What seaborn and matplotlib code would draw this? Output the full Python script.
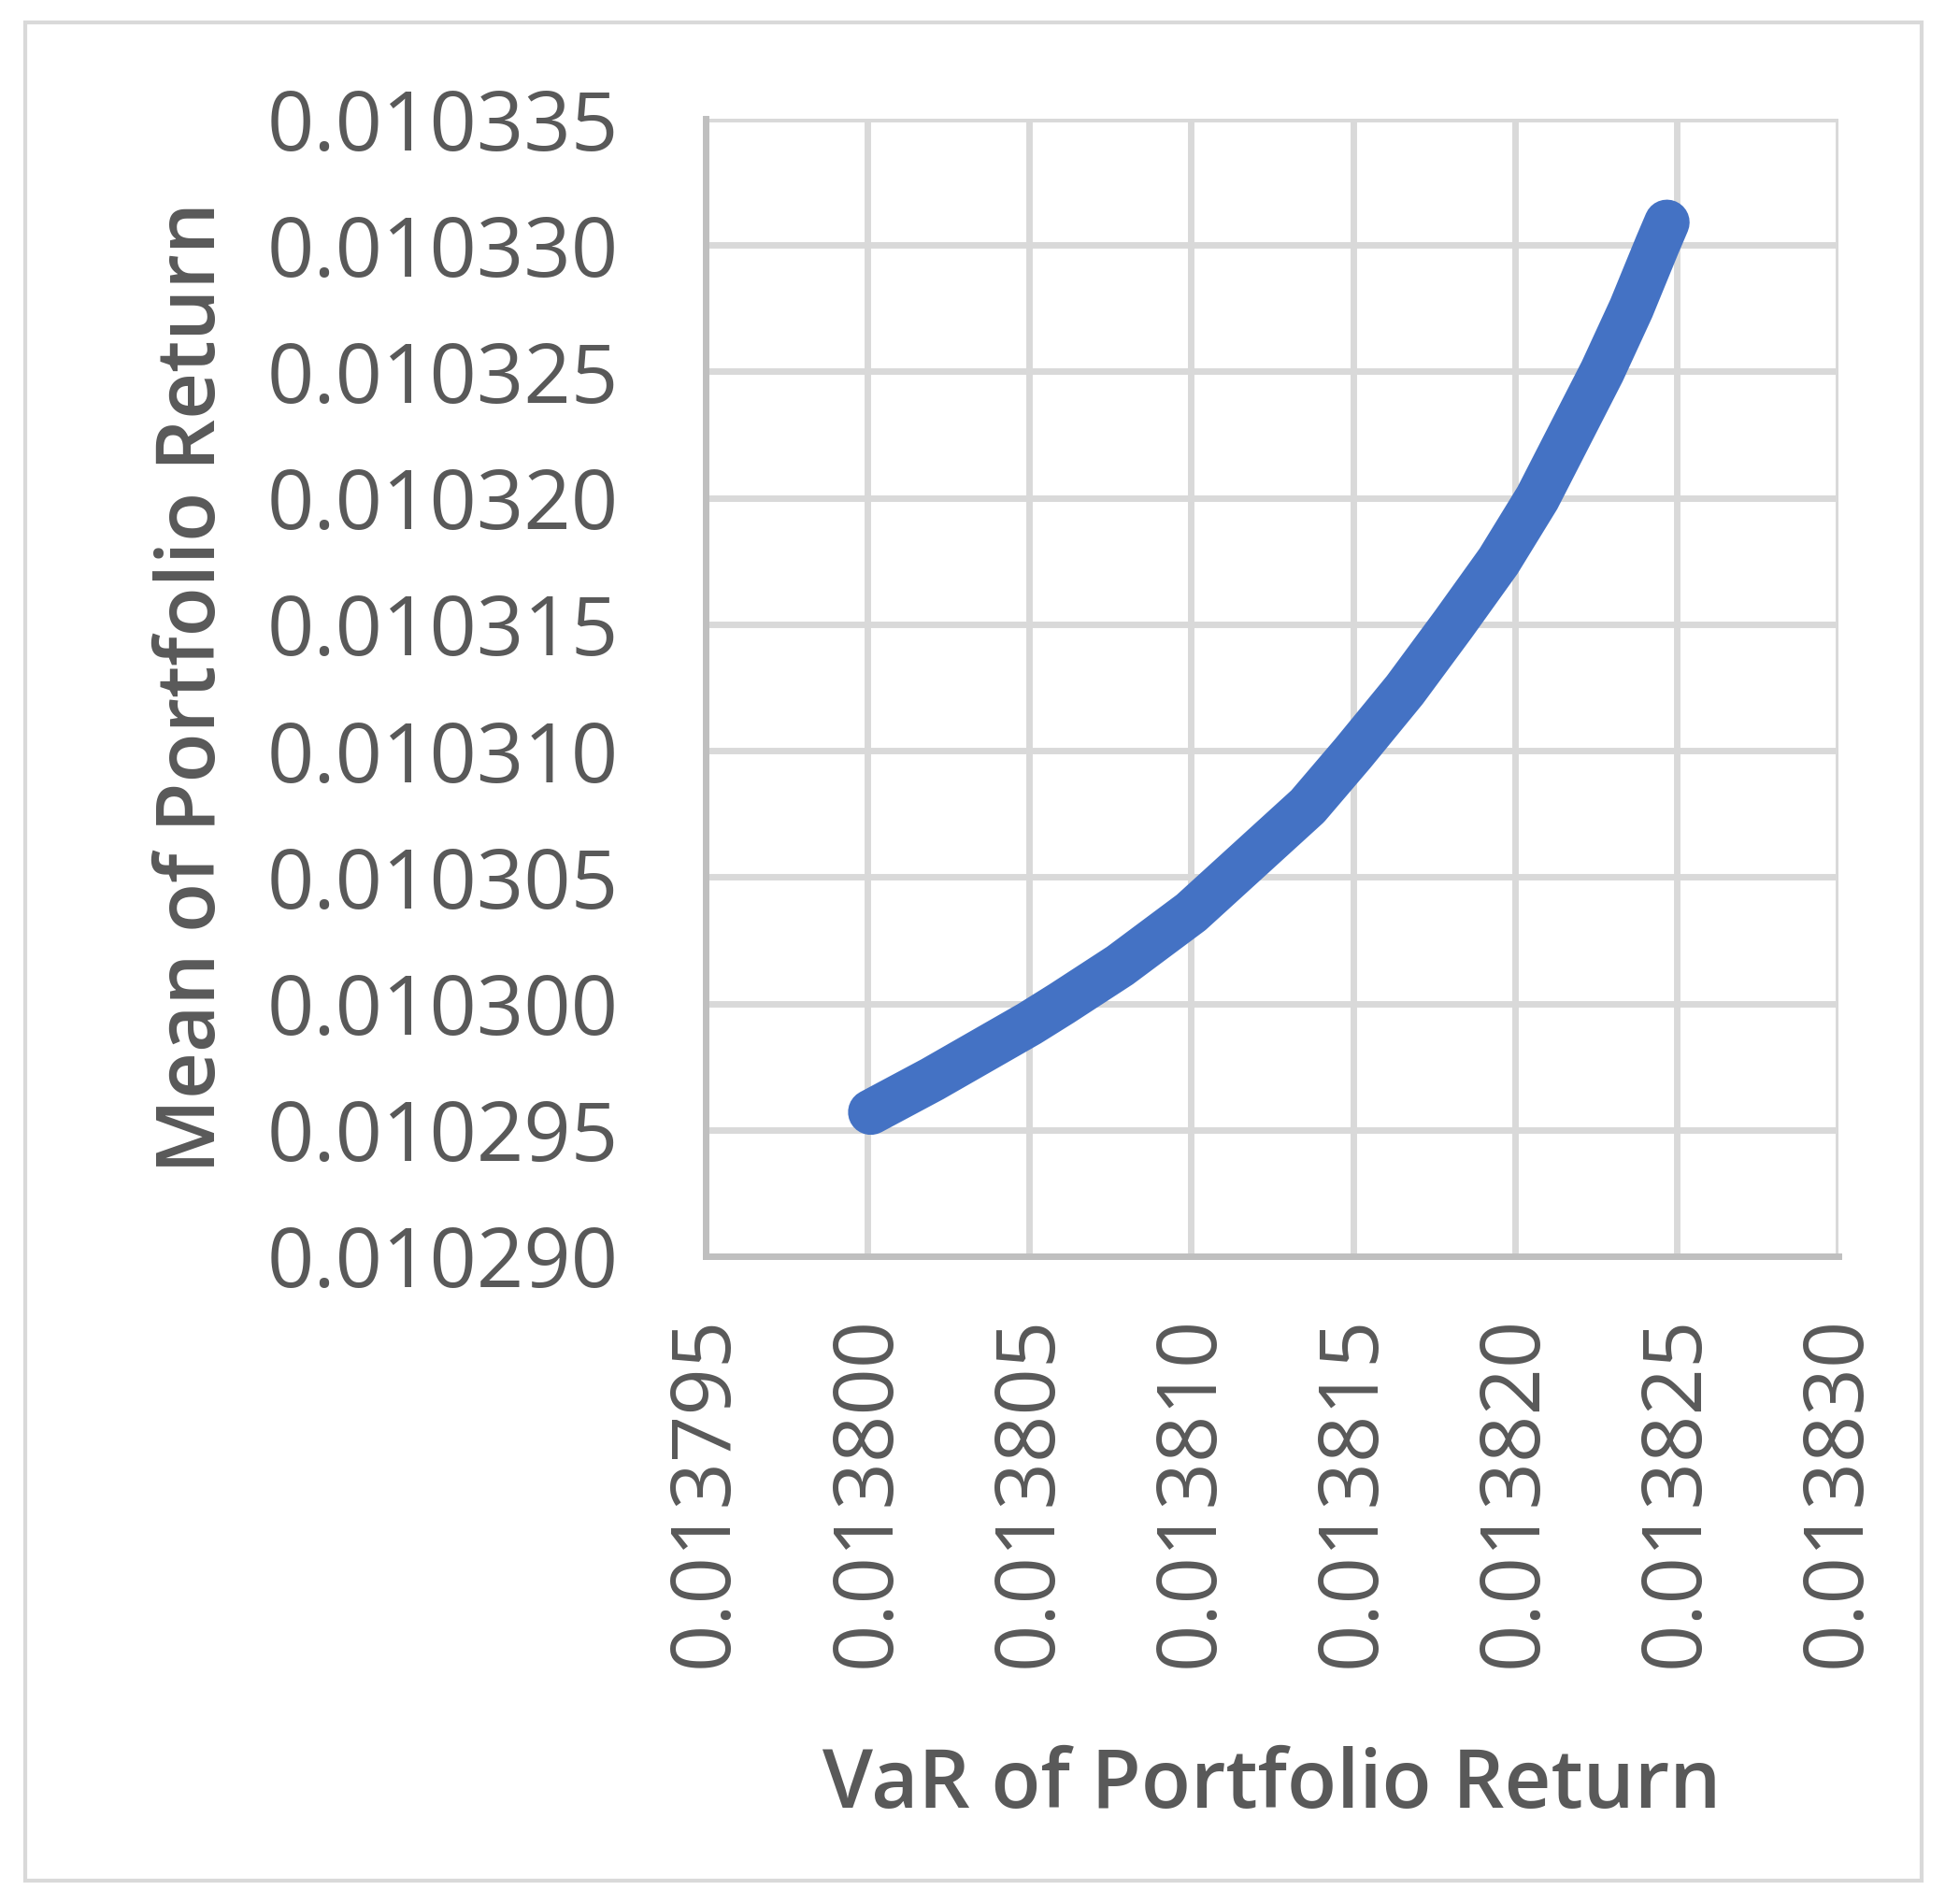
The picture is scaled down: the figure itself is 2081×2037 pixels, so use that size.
import matplotlib
matplotlib.use("Agg")
import matplotlib.pyplot as plt
import matplotlib.patches as mpatches
import pandas as pd
import seaborn as sns

# values
var_values = [0.0138001, 0.0138020, 0.0138050, 0.0138060, 0.0138078, 0.0138100,
              0.0138112, 0.0138136, 0.0138150, 0.0138166, 0.0138181, 0.0138195,
              0.0138207, 0.0138217, 0.0138227, 0.0138236, 0.0138244, 0.0138247]
mean_values = [0.0102957, 0.0102970, 0.0102992, 0.0103000, 0.0103015, 0.0103036,
               0.0103050, 0.0103078, 0.0103099, 0.0103124, 0.0103150, 0.0103175,
               0.0103200, 0.0103225, 0.0103250, 0.0103275, 0.0103300, 0.0103309]

x_ticks = [0.013795, 0.013800, 0.013805, 0.013810, 0.013815, 0.013820, 0.013825, 0.013830]
x_tick_labels = ["0.013795", "0.013800", "0.013805", "0.013810",
                 "0.013815", "0.013820", "0.013825", "0.013830"]
y_ticks = [0.010290, 0.010295, 0.010300, 0.010305, 0.010310,
           0.010315, 0.010320, 0.010325, 0.010330, 0.010335]
y_tick_labels = ["0.010290", "0.010295", "0.010300", "0.010305", "0.010310",
                 "0.010315", "0.010320", "0.010325", "0.010330", "0.010335"]

sns.set_style("white")
plt.rcParams['font.family'] = ['Open Sans', 'DejaVu Sans']

df = pd.DataFrame({"VaR": var_values, "Mean": mean_values})

fig = plt.figure(figsize=(20.81, 20.37), dpi=100)
ax = fig.add_axes([755 / 2081, 1 - 1344 / 2037, 1212 / 2081, 1217 / 2037])

sns.lineplot(data=df, x="VaR", y="Mean", sort=False, ax=ax, color="#4472C4",
             linewidth=35, solid_capstyle="round", solid_joinstyle="round", zorder=3)

ax.set_xlim(x_ticks[0], x_ticks[-1])
ax.set_ylim(y_ticks[0], y_ticks[-1])
ax.set_xticks(x_ticks)
ax.set_xticklabels(x_tick_labels, rotation=90, fontsize=63.5, color="#595959")
ax.set_yticks(y_ticks)
ax.set_yticklabels(y_tick_labels, fontsize=63.5, color="#595959")
ax.tick_params(axis="x", length=0, pad=46)
ax.tick_params(axis="y", length=0, pad=67)

ax.grid(True, color="#D9D9D9", linewidth=5)
ax.set_axisbelow(True)
for side in ["top", "right"]:
    ax.spines[side].set_visible(False)
for side in ["left", "bottom"]:
    ax.spines[side].set_color("#BFBFBF")
    ax.spines[side].set_linewidth(5)

ax.set_xlabel("VaR of Portfolio Return", fontsize=62.5, fontweight="semibold", color="#595959", va="center")
ax.set_ylabel("Mean of Portfolio Return", fontsize=62.5, fontweight="semibold", color="#595959", va="center")
ax.xaxis.set_label_coords(0.5, -0.466)
ax.yaxis.set_label_coords(-0.452, 0.5)

# chart area border
fig.patches.append(mpatches.Rectangle((27 / 2081, 1 - 2012 / 2037), 2029 / 2081, 1988 / 2037,
                                      transform=fig.transFigure, fill=False,
                                      edgecolor="#D9D9D9", linewidth=3))

fig.savefig("out.png", dpi=100, facecolor="white")
